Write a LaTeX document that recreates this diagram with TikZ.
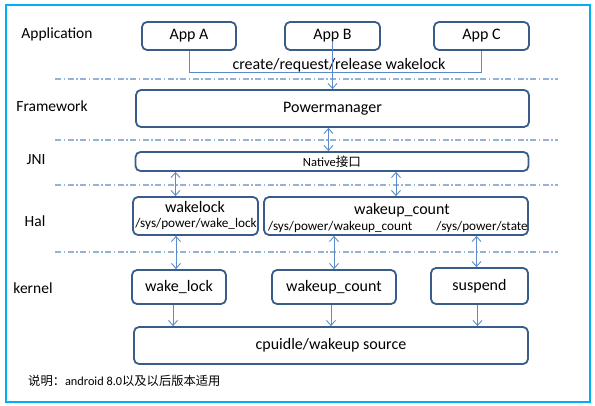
\documentclass[tikz,border=0pt]{standalone}
\usepackage{fontspec}
\setmainfont{Carlito}
\newfontfamily\cjk{Noto Sans CJK SC}
\usetikzlibrary{arrows.meta}

\definecolor{boxline}{RGB}{56,93,138}
\definecolor{arrline}{RGB}{91,139,200}
\definecolor{sepline}{RGB}{149,179,215}
\definecolor{frameline}{RGB}{0,176,240}

\tikzset{
  layer/.style={font=\fontsize{15.5}{17}\selectfont, inner sep=0pt},
  box/.style={draw=boxline, line width=1.8pt, rounded corners=5pt, inner sep=0pt, font=\fontsize{16}{18}\selectfont},
  title/.style={font=\fontsize{16}{18}\selectfont, inner sep=0pt},
  subtxt/.style={font=\fontsize{13.2}{15}\selectfont, inner sep=0pt},
  note/.style={font=\fontsize{12.3}{14}\selectfont, inner sep=0pt},
  dbl/.style={arrline, line width=0.9pt, {Straight Barb[length=5pt,width=9pt]}-{Straight Barb[length=5pt,width=9pt]}},
  arr/.style={arrline, line width=0.9pt, -{Straight Barb[length=5pt,width=9pt]}},
  link/.style={arrline, line width=0.9pt},
  sep/.style={sepline, line width=1.3pt, dash pattern=on 6pt off 2.5pt on 1.5pt off 2.5pt}
}

\begin{document}
\begin{tikzpicture}[x=1pt, y=-1pt]
  \useasboundingbox (0,0) rectangle (595,406);
  \draw[frameline, line width=2pt] (6,5) rectangle (590,402);

  % Layers
  \node[layer] (lapp) at (57,34) {Application};
  \node[layer] (lfw)  at (52,106) {Framework};
  \node[layer] (ljni) at (36,160) {JNI};
  \node[layer] (lhal) at (35,221) {Hal};
  \node[layer] (lker) at (33,288) {kernel};

  \foreach \y in {79,140,185,252}
    \draw[sep] (55,\y) -- (558,\y);

  % Application
  \node[box, minimum width=94pt, minimum height=28pt] (appA) at (189,36) {App A};
  \node[box, minimum width=95pt, minimum height=28pt] (appB) at (332.5,36) {App B};
  \node[box, minimum width=95pt, minimum height=28pt] (appC) at (481.5,36) {App C};
  \node[title] (cr) at (339,65) {create/request/release wakelock};

  % Framework, JNI
  \node[box, minimum width=393pt, minimum height=37pt] (pm) at (332.5,108.5) {Powermanager};
  \node[box, minimum width=393pt, minimum height=19pt, font=\fontsize{12.6}{14}\selectfont] (nat) at (332,161.5) {Native{\cjk 接口}};

  % Hal
  \node[box, minimum width=125pt, minimum height=38pt] (wl) at (195.5,216) {};
  \node[title] (wltitle) at (195,207) {wakelock};
  \node[subtxt] (wlpath) at (196,224) {/sys/power/wake\_lock};
  \node[box, minimum width=264pt, minimum height=38pt] (wc) at (396,216) {};
  \node[title] (wctitle) at (402,210) {wakeup\_count};
  \node[subtxt, anchor=west] (wcpath) at (268,227) {/sys/power/wakeup\_count};
  \node[subtxt, anchor=east] (wcstate) at (528,227) {/sys/power/state};

  % kernel
  \node[box, minimum width=94pt, minimum height=34pt] (kwl) at (179,287) {wake\_lock};
  \node[box, minimum width=124pt, minimum height=34pt] (kwc) at (334,287) {wakeup\_count};
  \node[box, minimum width=97pt, minimum height=36pt] (sus) at (479.5,286) {suspend};
  \node[box, minimum width=394pt, minimum height=37pt] (cpu) at (331,345.5) {cpuidle/wakeup source};

  \node[note, anchor=west] (note) at (28,381) {{\cjk 说明：}android 8.0{\cjk 以及以后版本适用}};

  % Connectors
  \draw[link] (appA.south) -- ++(0,22) -| (appC.south);
  \draw[arr] ([yshift=-5pt]appB.center) -- (pm.north);

  \draw[dbl] ([xshift=-4pt]pm.south) -- ([xshift=-4pt]pm.south |- nat.north);
  \draw[dbl] ([xshift=-20pt]wl.north |- nat.south) -- ([xshift=-20pt]wl.north);
  \draw[dbl] (wc.north |- nat.south) -- (wc.north);

  \draw[dbl] ([xshift=-3pt]kwl.north |- wl.south) -- ([xshift=-3pt]kwl.north);
  \draw[dbl] (kwc.north |- wc.south) -- (kwc.north);
  \draw[dbl] ([xshift=-3pt]sus.north |- wc.south) -- ([xshift=-3pt]sus.north);

  \draw[arr] ([xshift=-6pt]kwl.south) -- ([xshift=-6pt]kwl.south |- cpu.north);
  \draw[arr] ([xshift=-3pt]kwc.south) -- ([xshift=-3pt]kwc.south |- cpu.north);
  \draw[arr] ([xshift=-2pt]sus.south) -- ([xshift=-2pt]sus.south |- cpu.north);
\end{tikzpicture}
\end{document}
